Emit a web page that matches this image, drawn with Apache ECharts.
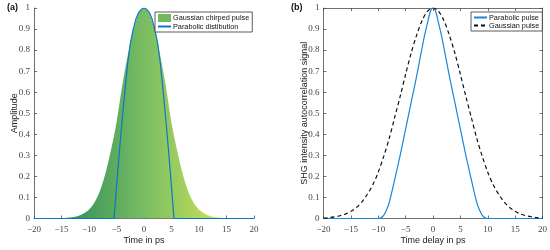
<!DOCTYPE html>
<html>
<head>
<meta charset="utf-8">
<script src="https://cdn.jsdelivr.net/npm/echarts@6/dist/echarts.min.js"></script>
<style>html,body{margin:0;padding:0;background:#fff}#c{width:550px;height:250px}</style>
</head>
<body>
<div id="c"></div>
<script>
// ---- data ----
const xTicks = [-20, -15, -10, -5, 0, 5, 10, 15, 20];
const yTicks = [0, 0.1, 0.2, 0.3, 0.4, 0.5, 0.6, 0.7, 0.8, 0.9, 1];

// (a) Gaussian chirped pulse
const gaussX = [-20,-19,-18,-17,-16,-15,-14,-13,-12,-11,-10,-9,-8,-7,-6,-5,-4,-3,-2,-1,0,1,2,3,4,5,6,7,8,9,10,11,12,13,14,15,16,17,18,19,20];
const gaussY = [0,0,0,0,0,0.001,0.003,0.006,0.012,0.024,0.042,0.076,0.132,0.215,0.325,0.455,0.625,0.77,0.89,0.972,1,0.972,0.89,0.77,0.625,0.455,0.325,0.215,0.132,0.076,0.042,0.024,0.012,0.006,0.003,0.001,0,0,0,0,0];
// (a) Parabolic distibution
const paraX = [-20,-5.45,-5,-4.5,-4,-3.5,-3,-2.5,-2,-1.5,-1,-0.5,0,0.5,1,1.5,2,2.5,3,3.5,4,4.5,5,5.45,20];
const paraY = [0,0,0.15,0.31,0.46,0.6,0.73,0.83,0.895,0.945,0.977,0.994,1,0.994,0.977,0.945,0.895,0.83,0.73,0.6,0.46,0.31,0.15,0,0];

// (b) Parabolic pulse autocorrelation
const acParaX = [-20,-10,-9.5,-9,-8.5,-8,-7,-6,-5,-4,-3,-2,-1.5,-1,-0.5,0,0.5,1,1.5,2,3,4,5,6,7,8,8.5,9,9.5,10,20];
const acParaY = [0,0,0.003,0.015,0.04,0.075,0.185,0.3,0.425,0.55,0.675,0.81,0.875,0.93,0.982,1,0.982,0.93,0.875,0.81,0.675,0.55,0.425,0.3,0.185,0.075,0.04,0.015,0.003,0,0];
// (b) Gaussian pulse autocorrelation
const acGaussX = [-20,-19,-18,-17,-16,-15,-14,-13,-12,-11,-10,-9,-8,-7,-6,-5,-4,-3,-2,-1,0,1,2,3,4,5,6,7,8,9,10,11,12,13,14,15,16,17,18,19,20];
const acGaussY = [0.002,0.004,0.008,0.013,0.021,0.034,0.052,0.078,0.115,0.16,0.22,0.295,0.38,0.48,0.58,0.685,0.785,0.87,0.94,0.985,1,0.985,0.94,0.87,0.785,0.685,0.58,0.48,0.38,0.295,0.22,0.16,0.115,0.078,0.052,0.034,0.021,0.013,0.008,0.004,0.002];

const legendA = ['Gaussian chirped pulse', 'Parabolic distibution'];
const legendB = ['Parabolic pulse', 'Gaussian pulse'];
const axisNames = {ax: 'Time in ps', ay: 'Amplitude', bx: 'Time delay in ps', by: 'SHG intensity autocorrelation signal'};

// ---- helpers ----
const pairs = (xs, ys) => xs.map((x, i) => [x, ys[i]]);
const minus = v => String(v).replace('-', '\u2212');

const legFont = {fontFamily: '"Liberation Sans", Arial, sans-serif', fontSize: 7.3};

const AX = '#4d4d4d';
const tickFont = {fontFamily: '"Liberation Serif", serif', fontSize: 9, color: '#444'};
const nameFont = {fontFamily: '"Liberation Sans", Arial, sans-serif', fontSize: 9, color: '#222'};

function xAx(grid, opts) {
  return Object.assign({
    type: 'value', gridIndex: grid, min: -20, max: 20, interval: 5,
    nameMoveOverlap: false,
    axisLine: {show: true, onZero: false, lineStyle: {color: AX, width: 0.8}},
    axisTick: {show: true, inside: true, length: 3, lineStyle: {color: AX, width: 0.8}},
    axisLabel: Object.assign({margin: 7, formatter: minus}, tickFont),
    splitLine: {show: false}
  }, opts);
}
function yAx(grid, opts) {
  return Object.assign({
    type: 'value', gridIndex: grid, min: 0, max: 1, interval: 0.1,
    nameMoveOverlap: false,
    axisLine: {show: true, onZero: false, lineStyle: {color: AX, width: 0.8}},
    axisTick: {show: true, inside: true, length: 3, lineStyle: {color: AX, width: 0.8}},
    axisLabel: Object.assign({margin: 4, formatter: v => String(+v.toFixed(1))}, tickFont),
    splitLine: {show: false}
  }, opts);
}
const hideSym = {color: 'rgba(0,0,0,0)', borderColor: 'rgba(0,0,0,0)', borderWidth: 0};
function legendBox(items, left) {
  return {
    data: items,
    orient: 'vertical', left: left, top: 12, padding: [2, 3, 2, 2], itemGap: 1,
    itemWidth: 13, itemHeight: 8,
    backgroundColor: '#fff', borderColor: '#333', borderWidth: 0.8, borderRadius: 0,
    textStyle: Object.assign({color: '#111', padding: [0, 0, 0, -3]}, legFont)
  };
}

const BLUE = '#0a78c8';
const BLUE2 = '#1a86d6';
const chart = echarts.init(document.getElementById('c'), null, {renderer: 'canvas'});
chart.setOption({
  animation: false,
  backgroundColor: '#fff',
  grid: [
    {left: 34, top: 8, width: 220, height: 215},
    {left: 323.5, top: 8, width: 219.5, height: 215}
  ],
  xAxis: [
    xAx(0, {name: axisNames.ax, nameLocation: 'middle', nameGap: 17.5, nameTextStyle: nameFont}),
    xAx(1, {name: axisNames.bx, nameLocation: 'middle', nameGap: 17.5, nameTextStyle: nameFont}),
    xAx(1, {position: 'top', axisLabel: {show: false}})
  ],
  yAxis: [
    yAx(0, {name: axisNames.ay, nameLocation: 'middle', nameGap: 14.5, nameTextStyle: nameFont}),
    yAx(1, {name: axisNames.by, nameLocation: 'middle', nameGap: 14.5, nameTextStyle: nameFont}),
    yAx(1, {position: 'right', axisLabel: {show: false}})
  ],
  legend: [
    legendBox([{name: legendA[0], icon: 'rect'}, {name: legendA[1], itemStyle: hideSym}], 155),
    legendBox([{name: legendB[0], itemStyle: hideSym}, {name: legendB[1], itemStyle: hideSym}], 471)
  ],
  series: [
    {
      name: legendA[0], type: 'line', xAxisIndex: 0, yAxisIndex: 0,
      data: pairs(gaussX, gaussY), smooth: 0.3, symbol: 'none',
      lineStyle: {width: 0}, itemStyle: {color: '#72b95e'},
      areaStyle: {
        opacity: 1,
        color: new echarts.graphic.LinearGradient(61, 0, 227, 0, [
          {offset: 0, color: '#2a8a5a'},
          {offset: 0.5, color: '#78bd62'},
          {offset: 1, color: '#d2e45a'}
        ], true)
      },
      z: 1
    },
    {
      name: legendA[1], type: 'line', xAxisIndex: 0, yAxisIndex: 0,
      data: pairs(paraX, paraY), symbol: 'none',
      lineStyle: {width: 1.2, color: BLUE}, itemStyle: {color: BLUE}, z: 3
    },
    {
      name: legendB[0], type: 'line', xAxisIndex: 1, yAxisIndex: 1,
      data: pairs(acParaX, acParaY), smooth: 0.3, symbol: 'none',
      lineStyle: {width: 1.2, color: BLUE2}, itemStyle: {color: BLUE2}, z: 3
    },
    {
      name: legendB[1], type: 'line', xAxisIndex: 1, yAxisIndex: 1,
      data: pairs(acGaussX, acGaussY), smooth: 0.3, symbol: 'none',
      lineStyle: {width: 1.2, color: '#111', type: [4, 3]}, itemStyle: {color: '#111'}, z: 3
    }
  ],
  graphic: [
    {type: 'text', left: 7, top: 3, style: {text: '(a)', fontFamily: '"Liberation Sans", Arial', fontWeight: 'bold', fontSize: 9, fill: '#111'}},
    {type: 'text', left: 291, top: 3, style: {text: '(b)', fontFamily: '"Liberation Sans", Arial', fontWeight: 'bold', fontSize: 9, fill: '#111'}}
  ]
});
</script>
</body>
</html>
